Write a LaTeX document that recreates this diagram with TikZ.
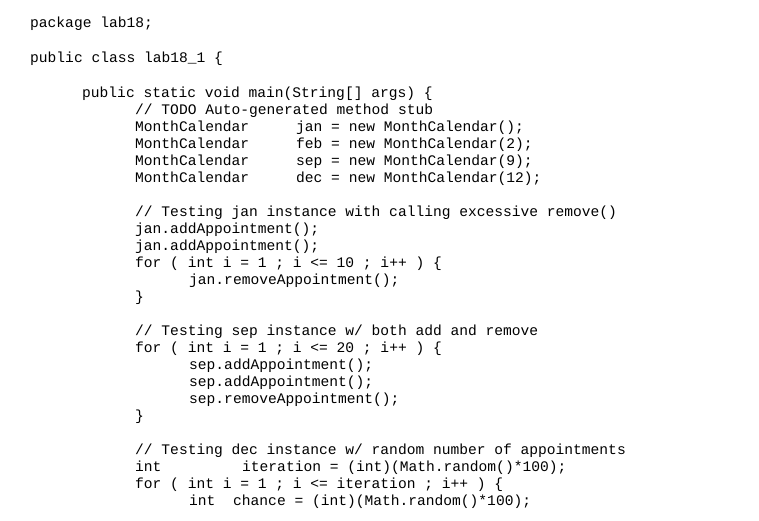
\documentclass[tikz,border=0pt]{standalone}
\usepackage{fontspec}
\setmainfont{Liberation Mono}
\begin{document}
\begin{tikzpicture}[x=1pt,y=-1pt,code/.style={anchor=base west,inner sep=0pt,font=\fontsize{14.6}{16}\selectfont}]
\useasboundingbox (0,0) rectangle (759,520);
\fill[white] (0,0) rectangle (759,520);
\newcommand\cl[4]{\node[code] (#1) at (#2,#3) {#4};}
\cl{a1}{30}{27}{package lab18;}
\cl{a2}{30}{62}{public class lab18\_1 \{}
\cl{a3}{82}{97}{public static void main(String[] args) \{}
\cl{a4}{135}{114}{// TODO Auto-generated method stub}
\cl{b1}{135}{131}{MonthCalendar}\cl{c1}{296}{131}{jan = new MonthCalendar();}
\cl{b2}{135}{148}{MonthCalendar}\cl{c2}{296}{148}{feb = new MonthCalendar(2);}
\cl{b3}{135}{165}{MonthCalendar}\cl{c3}{296}{165}{sep = new MonthCalendar(9);}
\cl{b4}{135}{182}{MonthCalendar}\cl{c4}{296}{182}{dec = new MonthCalendar(12);}
\cl{d1}{135}{216}{// Testing jan instance with calling excessive remove()}
\cl{d2}{135}{233}{jan.addAppointment();}
\cl{d3}{135}{250}{jan.addAppointment();}
\cl{d4}{135}{267}{for ( int i = 1 ; i <= 10 ; i++ ) \{}
\cl{d5}{189}{284}{jan.removeAppointment();}
\cl{d6}{135}{301}{\}}
\cl{e1}{135}{335}{// Testing sep instance w/ both add and remove}
\cl{e2}{135}{352}{for ( int i = 1 ; i <= 20 ; i++ ) \{}
\cl{e3}{189}{369}{sep.addAppointment();}
\cl{e4}{189}{386}{sep.addAppointment();}
\cl{e5}{189}{403}{sep.removeAppointment();}
\cl{e6}{135}{420}{\}}
\cl{f1}{135}{454}{// Testing dec instance w/ random number of appointments}
\cl{f2}{135}{471}{int}\cl{f3}{242}{471}{iteration = (int)(Math.random()*100);}
\cl{f4}{135}{488}{for ( int i = 1 ; i <= iteration ; i++ ) \{}
\cl{f5}{189}{505}{int}\cl{f6}{233}{505}{chance = (int)(Math.random()*100);}
\end{tikzpicture}
\end{document}
